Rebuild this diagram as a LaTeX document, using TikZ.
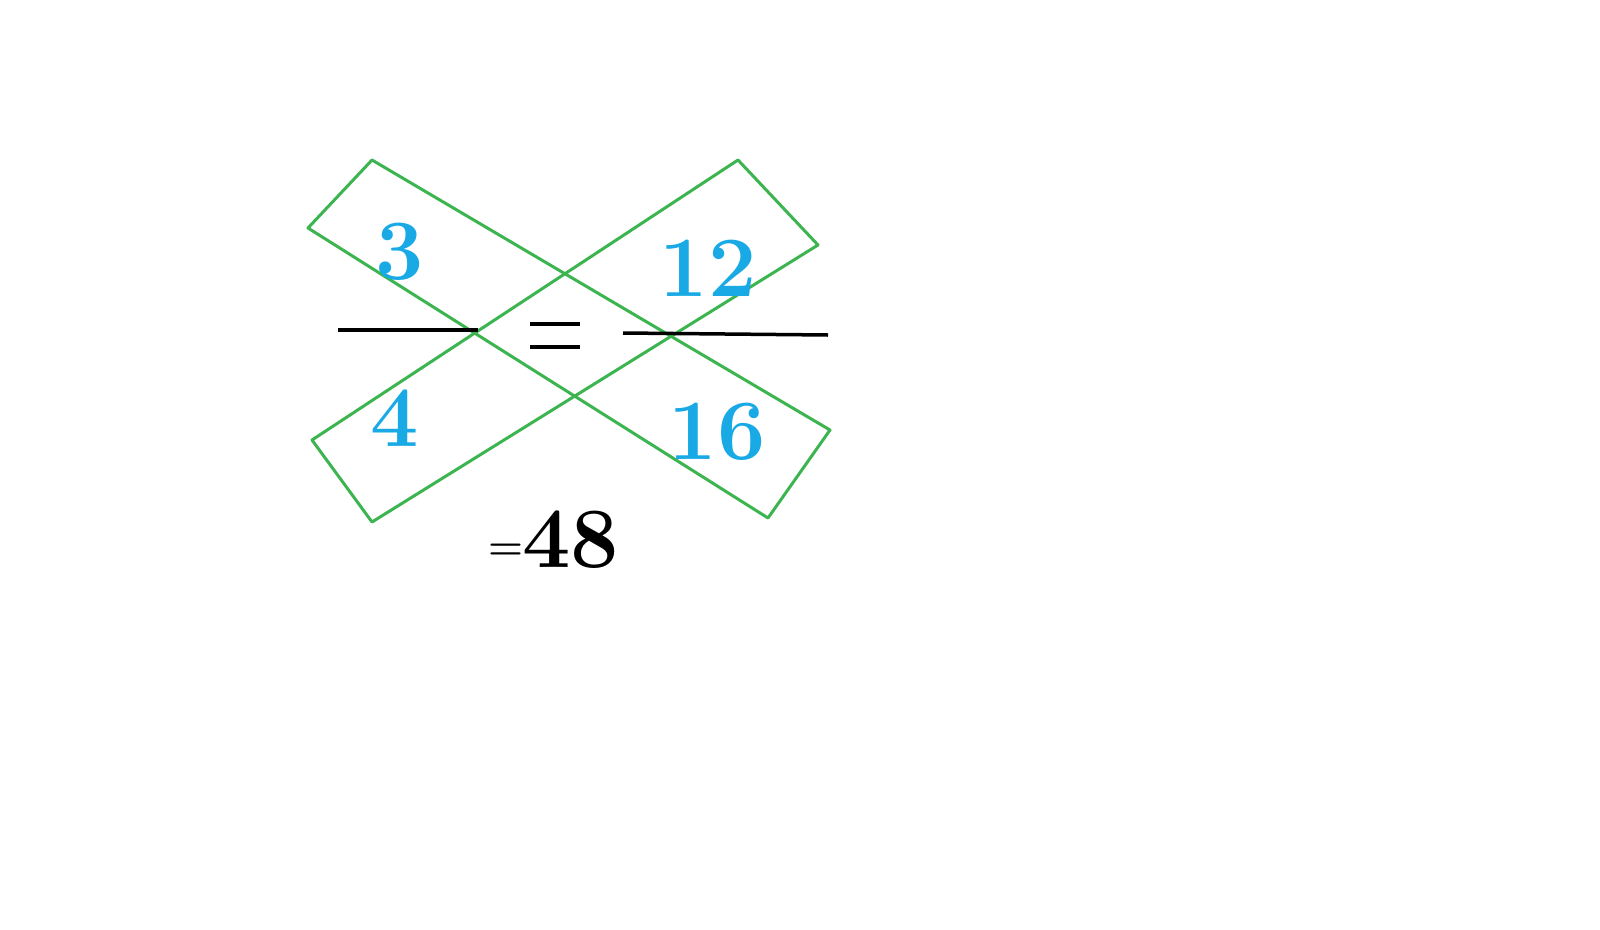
\documentclass[tikz,border=0pt]{standalone}
\usepackage{xcolor}
\definecolor{gr}{RGB}{60,180,80}
\definecolor{bl}{RGB}{25,170,230}
\tikzset{box/.style={draw=gr,line width=3pt,line join=round},
 num/.style={text=bl,font=\fontsize{86}{90}\selectfont\bfseries,inner sep=0pt},
 blk/.style={font=\fontsize{86}{90}\selectfont\bfseries,inner sep=0pt}}
\begin{document}
\begin{tikzpicture}[x=1pt,y=-1pt]
\useasboundingbox (0,0) rectangle (1600,929);
\draw[box] (372,160) -- (308,228) -- (768,518) -- (830,430) -- cycle;
\draw[box] (738,160) -- (818,245) -- (372,522) -- (312,440) -- cycle;
\coordinate (l1) at (338,330); \coordinate (l2) at (478,330);
\coordinate (r1) at (623,333); \coordinate (r2) at (828,335);
\draw[line width=3.5pt] (l1) -- (l2);
\draw[line width=3.5pt] (r1) -- (r2);
\coordinate (e1) at (530,324); \coordinate (e2) at (580,324);
\coordinate (e3) at (530,347); \coordinate (e4) at (580,347);
\draw[line width=4pt] (e1) -- (e2);
\draw[line width=4pt] (e3) -- (e4);
\node[num] (a) at (400,252) {3};
\node[num] (b) at (395,418) {4};
\node[num] (c) at (708,268) {12};
\node[num] (d) at (717,432) {16};
\node[blk,anchor=west] (e) at (522,540) {48};
\node[font=\fontsize{40}{40}\selectfont\bfseries,anchor=east,inner sep=0pt] (f) at (524,552) {=};
\end{tikzpicture}
\end{document}
